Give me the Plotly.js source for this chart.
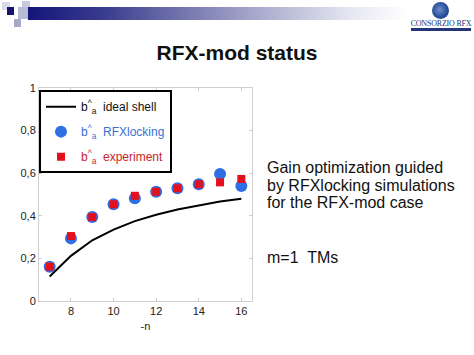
<!DOCTYPE html>
<html>
<head>
<meta charset="utf-8">
<script src="https://cdn.plot.ly/plotly-3.0.1.min.js"></script>
<style>
  html, body { margin: 0; padding: 0; background: #fff; }
  #wrap { position: relative; width: 474px; height: 355px; overflow: hidden; background: #fff; }
  #chart { position: absolute; left: 0; top: 0; width: 474px; height: 355px; }
  .sq { position: absolute; }
  #bar { position: absolute; left: 28px; top: 7px; width: 380px; height: 13px;
         background: linear-gradient(to right, #15157a 0%, #3a3c8e 20%, #9a9cc4 55%, #e6e7f1 85%, #ffffff 100%); }
  #globe { position: absolute; left: 432px; top: 2px; width: 17px; height: 17px; border-radius: 50%;
           background: radial-gradient(circle at 45% 45%, #6f8fc8 0%, #2a4f9a 55%, #143070 100%); }
  #logotxt { position: absolute; left: 410px; top: 19px; width: 62px; text-align: center;
             font-family: "Liberation Serif", "DejaVu Serif", serif; font-size: 8px; color: #24357a; letter-spacing: -0.2px; }
  #logobar { position: absolute; left: 411px; top: 28px; width: 60px; height: 3px; background: #24357a; }
</style>
</head>
<body>
<div id="wrap">
  <div class="sq" style="left:2px;top:2px;width:8px;height:8px;background:#d8dbe9;"></div>
  <div class="sq" style="left:7px;top:7px;width:7px;height:8px;background:#14146e;"></div>
  <div class="sq" style="left:22px;top:1px;width:8px;height:8px;background:#c5c8de;"></div>
  <div class="sq" style="left:18px;top:7px;width:10px;height:12px;background:#b8bbd6;"></div>
  <div class="sq" style="left:14px;top:19px;width:7px;height:8px;background:#a6a9c9;"></div>
  <div id="bar"></div>
  <div id="globe"></div>
  <div id="logotxt">CONSORZIO RFX</div>
  <div id="logobar"></div>
  <div id="chart"></div>
</div>
<script>
const nVals = [7, 8, 9, 10, 11, 12, 13, 14, 15, 16];
const idealShell = [0.115, 0.212, 0.285, 0.335, 0.375, 0.405, 0.430, 0.450, 0.467, 0.480];
const rfxLocking = [0.161, 0.294, 0.394, 0.454, 0.482, 0.513, 0.529, 0.548, 0.596, 0.540];
const experiment = [0.161, 0.305, 0.394, 0.454, 0.494, 0.513, 0.529, 0.548, 0.557, 0.573];
const yTickVals = [0, 0.2, 0.4, 0.6, 0.8, 1];
const yTickText = ['0', '0,2', '0,4', '0,6', '0,8', '1'];
const xTickVals = [8, 10, 12, 14, 16];
const sideLines = ['Gain optimization guided', 'by RFXlocking simulations', 'for the RFX-mod case'];
const sideNote = 'm=1  TMs';

const blue = '#2f6fe4';
const red = '#e5101e';
const font = 'Liberation Sans, Arial, Helvetica, sans-serif';

const traces = [
  {
    x: nVals, y: idealShell, type: 'scatter', mode: 'lines',
    line: {color: '#000', width: 2},
    name: 'b<sup>^</sup><sub>a</sub>  ideal shell', legendgroup: 'a'
  },
  {
    x: nVals, y: rfxLocking, type: 'scatter', mode: 'markers',
    marker: {color: blue, size: 12, symbol: 'circle'},
    name: '<span style="color:#3a6fd8">b<sup>^</sup><sub>a</sub>  RFXlocking</span>', legendgroup: 'b'
  },
  {
    x: nVals, y: experiment, type: 'scatter', mode: 'markers',
    marker: {color: red, size: 8, symbol: 'square'},
    name: '<span style="color:#c81e28">b<sup>^</sup><sub>a</sub>  experiment</span>', legendgroup: 'c'
  }
];

const annotations = sideLines.map((t, i) => ({
  xref: 'paper', yref: 'paper', x: 1.06, y: 0.625 - i * 0.082, xanchor: 'left', yanchor: 'middle', align: 'left',
  showarrow: false, font: {family: font, size: 16, color: '#111'}, text: t
}));
annotations.push({
  xref: 'paper', yref: 'paper', x: 1.06, y: 0.205, xanchor: 'left', yanchor: 'middle', align: 'left',
  showarrow: false, font: {family: font, size: 16, color: '#111'}, text: sideNote
});

const layout = {
  width: 474, height: 355,
  margin: {l: 39, r: 222, t: 88, b: 54},
  paper_bgcolor: 'rgba(0,0,0,0)',
  plot_bgcolor: 'rgba(0,0,0,0)',
  font: {family: font, size: 11, color: '#222'},
  showlegend: true,
  title: {text: '<b>RFX-mod status</b>', x: 0.5, xref: 'container', y: 0.853, yref: 'container',
          xanchor: 'center', yanchor: 'middle',
          font: {family: font, size: 21, color: '#111'}},
  xaxis: {
    range: [6.5, 16.5], tickvals: xTickVals, ticks: 'inside', ticklen: 3, tickcolor: '#ccc',
    showgrid: false, zeroline: false, showline: true, linecolor: '#d0d0d0', mirror: 'ticks',
    tickfont: {size: 11, color: '#222'},
    title: {text: '-n', font: {size: 11, color: '#222'}, standoff: 6}
  },
  yaxis: {
    range: [0, 1], tickvals: yTickVals, ticktext: yTickText, ticks: 'inside', ticklen: 3, tickcolor: '#ccc',
    showgrid: false, zeroline: false, showline: true, linecolor: '#d0d0d0', mirror: 'ticks',
    tickfont: {size: 11, color: '#222'}
  },
  legend: {
    x: 0.0, y: 0.99, xanchor: 'left', yanchor: 'top',
    bgcolor: '#fff', bordercolor: '#000', borderwidth: 2,
    font: {family: font, size: 12, color: '#111'},
    traceorder: 'grouped', tracegroupgap: 6, itemwidth: 30
  },
  annotations: annotations
};

Plotly.newPlot('chart', traces, layout, {displayModeBar: false, staticPlot: true});
</script>
</body>
</html>
